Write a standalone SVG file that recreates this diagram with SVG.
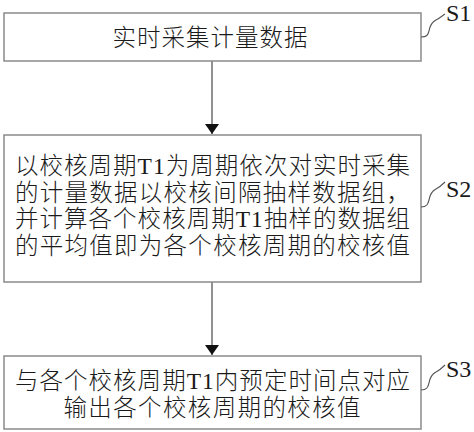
<svg xmlns="http://www.w3.org/2000/svg" width="474" height="432" viewBox="0 0 474 432">
<style>
.box{fill:#fff;stroke:#8a8a8a;stroke-width:1.5}
.t{font-family:"Liberation Serif","Noto Sans CJK SC",serif;font-size:23.5px;font-weight:300;fill:#1a1a1a}
.lbl{font-family:"Liberation Serif",serif;font-size:24px;fill:#1a1a1a}
.conn{stroke:#555;stroke-width:1.3;fill:none}
.sq{stroke:#555;stroke-width:1.1;fill:none}
</style>
<defs>
<marker id="ah" viewBox="0 0 10 14" refX="10" refY="7" markerWidth="10" markerHeight="14" markerUnits="userSpaceOnUse" orient="auto">
<path d="M0,0 L10,7 L0,14 Z" fill="#111"/>
</marker>
</defs>
<rect width="474" height="432" fill="#fff"/>
<g id="connectors">
<line class="conn" x1="212" y1="61" x2="212" y2="134" marker-end="url(#ah)"/>
<line class="conn" x1="212" y1="282" x2="212" y2="355" marker-end="url(#ah)"/>
</g>
<g id="s1">
<rect class="box" x="4" y="13" width="417" height="48"/>
<text class="t" x="210" y="46" text-anchor="middle" textLength="195" lengthAdjust="spacing">实时采集计量数据</text>
<path class="sq" d="M421,37 C427,37 428,35 429,31 C430,25 432,22 436,20 C440,18 442,16 445,14"/>
<text class="lbl" x="446" y="21">S1</text>
</g>
<g id="s2">
<rect class="box" x="4" y="135" width="417" height="147"/>
<text class="t" x="15" y="174" textLength="395" lengthAdjust="spacing">以校核周期T1为周期依次对实时采集</text>
<text class="t" x="15" y="201" textLength="395" lengthAdjust="spacing">的计量数据以校核间隔抽样数据组，</text>
<text class="t" x="15" y="227" textLength="395" lengthAdjust="spacing">并计算各个校核周期T1抽样的数据组</text>
<text class="t" x="15" y="254" textLength="395" lengthAdjust="spacing">的平均值即为各个校核周期的校核值</text>
<path class="sq" d="M421,207 C427,207 428,204 429,200 C430,194 432,191 436,189 C440,187 442,185 445,182"/>
<text class="lbl" x="446" y="197">S2</text>
</g>
<g id="s3">
<rect class="box" x="4" y="356" width="417" height="73"/>
<text class="t" x="15" y="389" textLength="395" lengthAdjust="spacing">与各个校核周期T1内预定时间点对应</text>
<text class="t" x="212" y="416" text-anchor="middle" textLength="297" lengthAdjust="spacing">输出各个校核周期的校核值</text>
<path class="sq" d="M421,390 C427,390 428,387 429,383 C430,377 432,374 436,372 C440,370 442,368 445,365"/>
<text class="lbl" x="446" y="377">S3</text>
</g>
</svg>
